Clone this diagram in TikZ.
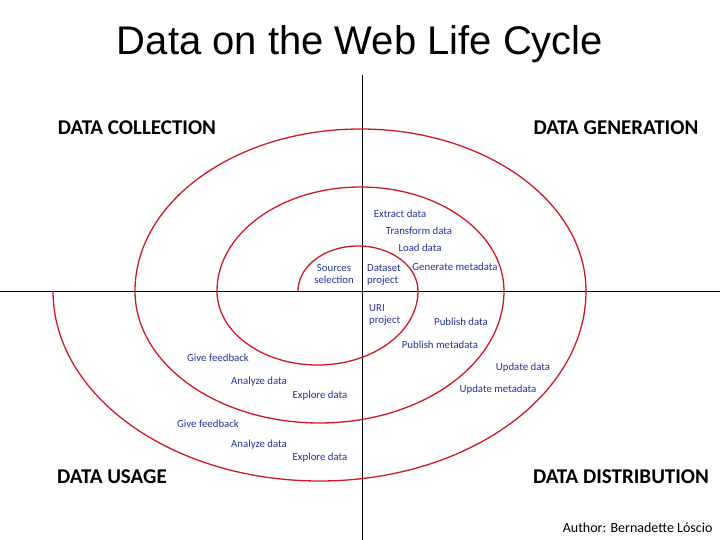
\documentclass[tikz,border=0pt]{standalone}
\usepackage{fontspec}
\setmainfont{Carlito}
\newfontfamily\titlefont{Liberation Sans}
\definecolor{lblue}{RGB}{35,50,150}
\definecolor{sred}{RGB}{205,25,35}
\begin{document}
\begin{tikzpicture}[x=1pt,y=-1pt,
  lbl/.style={text=lblue,font=\fontsize{10.8}{12}\selectfont,inner sep=1pt,align=left},
  hdr/.style={font=\bfseries\fontsize{21}{24}\selectfont,inner sep=0pt},
  spiral/.style={draw=sred,line width=1.3pt}]
\useasboundingbox (0,0) rectangle (720,540);
\node[font=\titlefont\fontsize{40}{44}\selectfont] (title) at (360,44) {Data on the Web Life Cycle};
\coordinate (hl) at (0,291); \coordinate (hr) at (720,291);
\coordinate (vt) at (362,75); \coordinate (vb) at (362,540);
\draw[line width=0.8pt] (hl) -- (hr);
\draw[line width=0.8pt] (vt) -- (vb);
\coordinate (s0) at (298,291);
\draw[spiral] (s0)
  arc[start angle=180,end angle=360,x radius=60,y radius=45]
  arc[start angle=0,end angle=180,x radius=100.5,y radius=74]
  arc[start angle=180,end angle=360,x radius=143.5,y radius=104]
  arc[start angle=0,end angle=180,x radius=184.5,y radius=132]
  arc[start angle=180,end angle=360,x radius=225.5,y radius=162]
  arc[start angle=0,end angle=180,x radius=266.5,y radius=190];
\node[hdr] (dc) at (137,128) {DATA COLLECTION};
\node[hdr] (dg) at (616,128) {DATA GENERATION};
\node[hdr] (du) at (112,477) {DATA USAGE};
\node[hdr] (dd) at (621,477) {DATA DISTRIBUTION};
\node[lbl] (l1) at (400,214) {Extract data};
\node[lbl] (l2) at (419,231) {Transform data};
\node[lbl] (l3) at (420,248) {Load data};
\node[lbl] (l4) at (455,267) {Generate metadata};
\node[lbl,align=center] (l5) at (334,274) {Sources\\selection};
\node[lbl,anchor=west] (l6) at (366,275) {Dataset\\project};
\node[lbl,anchor=west] (l7) at (368,315) {URI\\project};
\node[lbl] (l8) at (461,322) {Publish data};
\node[lbl] (l9) at (440,345) {Publish metadata};
\node[lbl] (l10) at (218,358) {Give feedback};
\node[lbl] (l11) at (259,382) {Analyze data};
\node[lbl] (l12) at (320,396) {Explore data};
\node[lbl] (l13) at (523,368) {Update data};
\node[lbl] (l14) at (498,390) {Update metadata};
\node[lbl] (l15) at (208,424) {Give feedback};
\node[lbl] (l16) at (259,445) {Analyze data};
\node[lbl] (l17) at (320,458) {Explore data};
\node[font=\fontsize{14}{16}\selectfont,anchor=east] (auth) at (716,528) {Author: Bernadette Lóscio};
\end{tikzpicture}
\end{document}
